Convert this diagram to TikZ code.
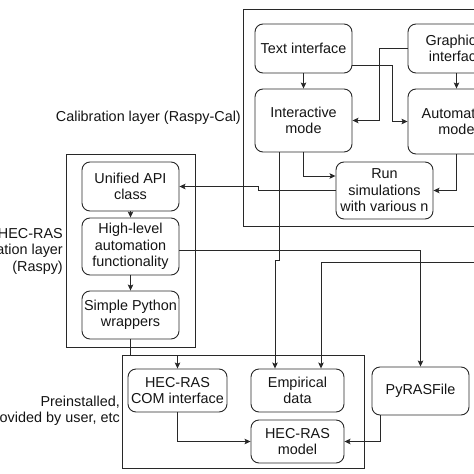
\documentclass[tikz,border=0pt]{standalone}
\usepackage{fontspec}
\setmainfont{Liberation Sans}
\usetikzlibrary{arrows.meta}
\definecolor{ln}{RGB}{40,40,40}
\definecolor{tx}{RGB}{20,20,20}
\begin{document}
\begin{tikzpicture}[x=1pt,y=-1pt,
  every node/.style={font=\fontsize{14.4}{16.5}\selectfont, text=tx},
  blk/.style={draw=ln, line width=0.9pt, rounded corners=8pt, align=center, inner sep=0pt, minimum width=97pt},
  grp/.style={draw=ln, line width=0.9pt},
  arr/.style={draw=ln, line width=0.9pt, -{Stealth[length=6pt,width=5.5pt,inset=1.2pt]}},
  lbl/.style={align=right, anchor=east, inner sep=0pt}]
\useasboundingbox (0,0) rectangle (474,474);
\clip (0,0) rectangle (474,474);
% group frames
\draw[grp] (243,9) rectangle (530,226);
\draw[grp] (66,154) rectangle (195,347);
\draw[grp] (122,355) rectangle (364,468);
% blocks
\node[blk, minimum height=49pt] (ti) at (303.5,48.5) {Text interface};
\node[blk, minimum height=49pt] (gi) at (456.5,48.5) {Graphical\\interface};
\node[blk, minimum height=63pt] (im) at (303.5,120.5) {Interactive\\mode};
\node[blk, minimum height=65pt] (am) at (456.5,121.5) {Automated\\mode};
\node[blk, minimum height=57pt] (rs) at (384.5,190.5) {Run\\simulations\\with various n};
\node[blk, minimum height=49pt] (ua) at (130.5,186.5) {Unified API\\class};
\node[blk, minimum height=57pt] (hl) at (130.5,246.5) {High-level\\automation\\functionality};
\node[blk, minimum height=48pt] (sp) at (130.5,315) {Simple Python\\wrappers};
\node[blk, minimum height=43pt, minimum width=99pt] (com) at (177.5,390.5) {HEC-RAS\\COM interface};
\node[blk, minimum height=43pt, minimum width=93pt] (ed) at (297.5,390.5) {Empirical\\data};
\node[blk, minimum height=43pt, minimum width=93pt] (hm) at (297.5,441.5) {HEC-RAS\\model};
\node[blk, minimum height=48pt] (py) at (420.5,391) {PyRASFile};
% labels
\node[lbl] (l1) at (241,118) {Calibration layer (Raspy-Cal)};
\node[lbl] (l2) at (63,251) {HEC-RAS\\automation layer\\(Raspy)};
\node[lbl] (l3) at (120,411) {Preinstalled,\\provided by user, etc};
\coordinate (off) at (490,262);
% connectors
\draw[arr] (ti.south) -- (im.north);
\draw[arr] (gi.south) -- (am.north);
\draw[arr] (gi.west) -- ++(-28,0) |- (im.east);
\draw[arr] ([yshift=-16.5pt]ti.east) -| (392,121.5) -- (am.west);
\draw[arr] (im.south) |- ([yshift=14.5pt]rs.west);
\draw[arr] (am.south) |- (rs.east);
\draw[arr] (rs.west) -- (258,190.5) -- (258,186.5) -- (ua.east);
\draw[arr] ([xshift=-24.5pt]im.south) -- (279,260) -- (275,260) -- ([xshift=-22.5pt]ed.north);
\draw[arr] (off) -| ([xshift=23.5pt]ed.north);
\draw[arr] ([yshift=-3.5pt]hl.east) -| (py.north);
\draw[arr] (ua.south) -- (hl.north);
\draw[arr] (hl.south) -- (sp.north);
\draw[arr] (sp.south) -- ++(0,16) -| (com.north);
\draw[arr] (com.south) |- (hm.west);
\draw[arr] ([xshift=-40.5pt]py.south) |- (hm.east);
\end{tikzpicture}
\end{document}
